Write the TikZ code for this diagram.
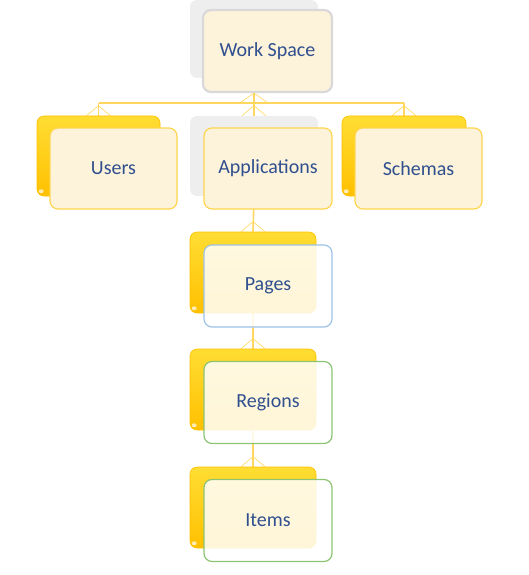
\documentclass[tikz,border=0pt]{standalone}
\usepackage{fontspec}
\setmainfont{Carlito}
\usetikzlibrary{calc}
\definecolor{conn}{HTML}{FFD75E}
\definecolor{txt}{HTML}{2F4F8F}
\definecolor{cream}{HTML}{FDF2DA}
\definecolor{goldA}{HTML}{FFDD33}
\definecolor{goldM}{HTML}{FFC800}
\definecolor{goldB}{HTML}{FFC000}
\definecolor{goldEdge}{HTML}{FFD54F}
\definecolor{grayback}{HTML}{EEEEEE}
\definecolor{wsborder}{HTML}{D9D9D9}
\definecolor{blueB}{HTML}{9DC3E6}
\definecolor{greenB}{HTML}{8CC474}
\pgfdeclarelayer{bg}
\pgfsetlayers{bg,main}
\tikzset{
  backgold/.style={rounded corners=7pt, top color=goldA, middle color=goldM, bottom color=goldB, draw=goldB, line width=0.6pt, minimum width=124pt, minimum height=80pt, inner sep=0pt},
  backgray/.style={rounded corners=7pt, fill=grayback, draw=none, minimum width=128pt, minimum height=80pt, inner sep=0pt},
  frontbox/.style={rounded corners=8pt, fill=cream, draw=goldEdge, line width=1.2pt, minimum width=127pt, minimum height=81pt, inner sep=0pt, text=txt, font=\fontsize{20}{24}\selectfont},
  frontclear/.style={frontbox, fill=white, fill opacity=0.85, text opacity=1},
  conline/.style={draw=conn, line width=1.6pt},
  tent/.style={draw=conn, line width=0.6pt},
  shine/.style={fill=white, fill opacity=0.7, draw=none}
}
\begin{document}
\begin{tikzpicture}[x=1pt,y=-1pt]
\useasboundingbox (0,0) rectangle (528,575);
% level 0
\node[backgray, minimum height=78pt] (wsb) at (254,39) {};
\node[frontbox, draw=wsborder, line width=2.2pt, minimum width=129pt, minimum height=82pt] (ws) at (267.5,51) {Work Space};
% level 1
\node[backgold, minimum width=123pt] (ub) at (98.5,156) {};
\node[backgray] (ab) at (254,156) {};
\node[backgold] (sb) at (404,156) {};
\node[frontbox] (u) at (113.5,168.5) {Users};
\node[frontbox, minimum width=128pt] (a) at (268,168.5) {Applications};
\node[frontbox] (s) at (418.5,168.5) {Schemas};
% chain
\node[backgold, minimum width=126pt, minimum height=81pt] (pb) at (253,272.5) {};
\node[frontclear, draw=blueB, minimum width=128pt, minimum height=82pt] (p) at (268,286) {Pages};
\node[backgold, minimum width=126pt, minimum height=81pt] (rb) at (253,389.5) {};
\node[frontclear, draw=greenB, minimum width=128pt, minimum height=82pt] (r) at (268,402.5) {Regions};
\node[backgold, minimum width=126pt, minimum height=81pt] (ib) at (253,507.5) {};
\node[frontclear, draw=greenB, minimum width=128pt, minimum height=82pt] (i) at (268,520.5) {Items};
% small highlights on the gold boxes
\foreach \b in {ub,sb,pb,rb,ib}{
  \fill[shine] ($(\b.south west)+(4.5,-5)$) ellipse (2.5pt and 2pt);
}
\coordinate (bus) at (0,103);
\begin{pgfonlayer}{bg}
\draw[conline] (wsb.south) -- (wsb.south |- bus);
\draw[conline] (ub.north |- bus) -- (sb.north |- bus);
\draw[conline] (ub.north |- bus) -- (ub.north);
\draw[conline] (ab.north |- bus) -- (ab.north);
\draw[conline] (sb.north |- bus) -- (sb.north);
\draw[conline] (ab.south) -- (pb.north);
\draw[conline] (pb.south) -- (rb.north);
\draw[conline] (rb.south) -- (ib.north);
% tents
\draw[tent] ($(wsb.south |- bus)+(-14,0)$) -- ($(wsb.south |- bus)+(0,-10)$) -- ($(wsb.south |- bus)+(14,0)$);
\foreach \b in {ub,ab,sb,pb,rb,ib}{
  \draw[tent] ($(\b.north)+(-12,0)$) -- ($(\b.north)+(0,-10)$) -- ($(\b.north)+(12,0)$);
}
\end{pgfonlayer}
\end{tikzpicture}
\end{document}
